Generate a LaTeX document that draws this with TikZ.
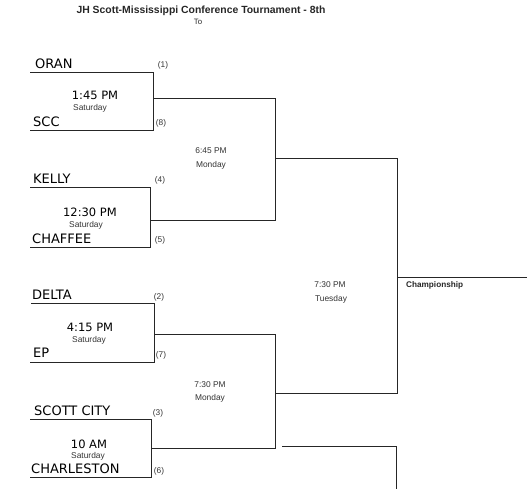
\documentclass[tikz,border=0pt]{standalone}
\usepackage{fontspec}
\setmainfont{Liberation Sans}
\newfontfamily\hand{DejaVu Sans}
\begin{document}
\begin{tikzpicture}[x=1pt,y=-1pt,
  bline/.style={line width=0.9pt,draw=black!85},
  team/.style={anchor=south west,inner sep=0pt,font=\hand\fontsize{13}{14}\selectfont},
  htime/.style={inner sep=0pt,font=\hand\fontsize{11.5}{12}\selectfont},
  small/.style={inner sep=0pt,font=\fontsize{8.4}{9}\selectfont,text=black!80},
  seed/.style={inner sep=0pt,font=\fontsize{8.3}{9}\selectfont,text=black!80}]
\useasboundingbox (0,0) rectangle (530,489);
% title
\node[inner sep=0pt,font=\bfseries\fontsize{10.4}{11}\selectfont,text=black!85] (title) at (201,11) {JH Scott-Mississippi Conference Tournament - 8th};
\node[inner sep=0pt,font=\fontsize{7.8}{8}\selectfont,text=black!85] (to) at (198,22) {To};
% coordinates of bracket lines
\coordinate (a1) at (30,72);  \coordinate (a2) at (153,72);
\coordinate (a3) at (153,130); \coordinate (a4) at (30,130);
\coordinate (ao) at (153,98); \coordinate (ae) at (275,98);
\coordinate (b1) at (30,187); \coordinate (b2) at (150,187);
\coordinate (b3) at (150,247); \coordinate (b4) at (30,247);
\coordinate (bo) at (150,220); \coordinate (be) at (275,220);
\coordinate (c1) at (31,303); \coordinate (c2) at (154,303);
\coordinate (c3) at (154,362); \coordinate (c4) at (30,362);
\coordinate (co) at (154,334); \coordinate (ce) at (275,334);
\coordinate (d1) at (30,419); \coordinate (d2) at (151,419);
\coordinate (d3) at (151,477); \coordinate (d4) at (30,477);
\coordinate (do) at (151,448); \coordinate (de) at (275,448);
\coordinate (s1o) at (275,158); \coordinate (s1e) at (397,158);
\coordinate (s2o) at (275,393); \coordinate (s2e) at (397,393);
\coordinate (ch1) at (397,277); \coordinate (ch2) at (527,277);
\coordinate (k1) at (282,446); \coordinate (k2) at (396,446); \coordinate (k3) at (396,489);
% brackets
\draw[bline] (a1) -- (a2) -- (a3) -- (a4);
\draw[bline] (ao) -- (ae) -- (be) -- (bo);
\draw[bline] (b1) -- (b2) -- (b3) -- (b4);
\draw[bline] (c1) -- (c2) -- (c3) -- (c4);
\draw[bline] (co) -- (ce) -- (de) -- (do);
\draw[bline] (d1) -- (d2) -- (d3) -- (d4);
\draw[bline] (s1o) -- (s1e) -- (s2e) -- (s2o);
\draw[bline] (ch1) -- (ch2);
\draw[bline] (k1) -- (k2) -- (k3);
% teams
\node[team] (oran) at (35,69) {ORAN};
\node[team] (scc) at (33,127) {SCC};
\node[team] (kelly) at (33,184) {KELLY};
\node[team] (chaffee) at (32,244) {CHAFFEE};
\node[team] (delta) at (32,300) {DELTA};
\node[team] (ep) at (33,358) {EP};
\node[team] (scott) at (34,416) {SCOTT CITY};
\node[team] (charleston) at (31,474) {CHARLESTON};
% times
\node[htime] (t1) at (95,95) {1:45 PM};
\node[small] (d1t) at (90,108) {Saturday};
\node[htime] (t2) at (90,212) {12:30 PM};
\node[small] (d2t) at (86,225) {Saturday};
\node[htime] (t3) at (90,327) {4:15 PM};
\node[small] (d3t) at (89,340) {Saturday};
\node[htime] (t4) at (89,444) {10 AM};
\node[small] (d4t) at (88,456) {Saturday};
% seeds
\node[seed] (s1) at (163,65) {(1)};
\node[seed] (s8) at (161,123) {(8)};
\node[seed] (s4) at (160,180) {(4)};
\node[seed] (s5) at (160,240) {(5)};
\node[seed] (s2) at (159,297) {(2)};
\node[seed] (s7) at (161,355) {(7)};
\node[seed] (s3) at (158,413) {(3)};
\node[seed] (s6) at (159,471) {(6)};
% round 2 / final
\node[small] (m1) at (211,151) {6:45 PM};
\node[small] (m1d) at (211,165) {Monday};
\node[small] (m2) at (210,385) {7:30 PM};
\node[small] (m2d) at (210,398) {Monday};
\node[small] (f1) at (330,285) {7:30 PM};
\node[small] (f1d) at (331,299) {Tuesday};
\node[inner sep=0pt,anchor=west,font=\bfseries\fontsize{8.2}{9}\selectfont,text=black!85] (champ) at (406,285) {Championship};
\end{tikzpicture}
\end{document}
